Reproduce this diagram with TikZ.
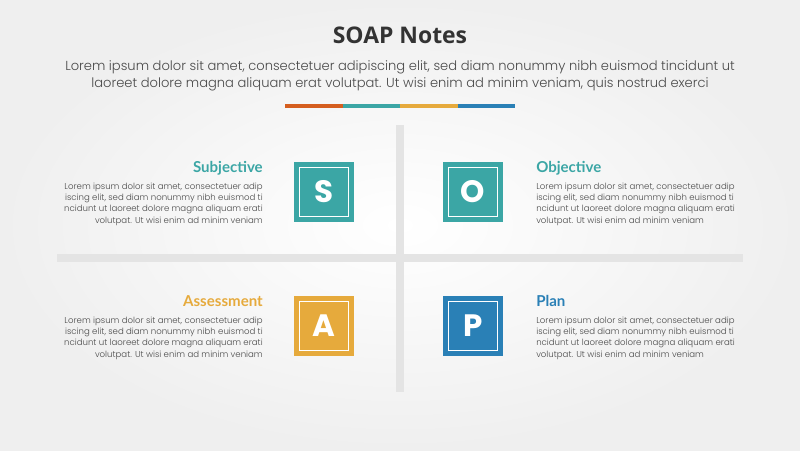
\documentclass[tikz,border=0pt]{standalone}
\usepackage{fontspec}
\setmainfont{Poppins}
\newfontfamily\lightfont{Poppins Light}
\newfontfamily\headfont{Lato}
\newfontfamily\titlefont{Open Sans}
\definecolor{bggray}{HTML}{EFEFEF}
\definecolor{crossgray}{HTML}{E4E4E4}
\definecolor{txtgray}{HTML}{4A4A4A}
\definecolor{soaporange}{HTML}{D55E1F}
\definecolor{soapteal}{HTML}{3BA6A5}
\definecolor{soapyellow}{HTML}{E6AA3C}
\definecolor{soapblue}{HTML}{2A80B6}
\tikzset{
  letterbox/.style={fill=#1,draw=#1,double=white,double distance=0.7pt,line width=3.5pt,
    minimum size=1.225cm,inner sep=0pt,text=white,font=\fontsize{22}{22}\selectfont\bfseries},
  heading/.style={text=#1,font=\headfont\fontsize{10.7}{12}\selectfont\bfseries,inner sep=0pt},
  bodytext/.style={text=txtgray,font=\lightfont\fontsize{6.1}{7.9}\selectfont,inner sep=0pt}
}
\newcommand{\loremblock}{Lorem ipsum dolor sit amet, consectetuer adip\\iscing elit, sed diam nonummy nibh euismod ti\\ncidunt ut laoreet dolore magna aliquam erati\\volutpat. Ut wisi enim ad minim veniam}
\begin{document}
\begin{tikzpicture}[x=0.025cm,y=-0.025cm]
  \shade[inner color=white,outer color=bggray] (0,0) rectangle (800,450); % background
  \fill[crossgray] (396,125) rectangle (404,392); % vertical bar
  \fill[crossgray] (57,254) rectangle (743,262); % horizontal bar
  \foreach \c [count=\i from 0] in {soaporange,soapteal,soapyellow,soapblue}{
    \fill[\c] (285+57.5*\i,104) rectangle (342.5+57.5*\i,107.5);
  }
  \node[font=\titlefont\fontsize{16.3}{17}\selectfont\bfseries,text=black!80,anchor=base] (title) at (400,43) {SOAP Notes};
  % base anchor sits on the last line
  \node[text=txtgray,font=\lightfont\fontsize{9.3}{11.4}\selectfont,align=center,anchor=base,inner sep=0pt] (subtitle) at (400,87)
    {Lorem ipsum dolor sit amet, consectetuer adipiscing elit, sed diam nonummy nibh euismod tincidunt ut\\laoreet dolore magna aliquam erat volutpat. Ut wisi enim ad minim veniam, quis nostrud exerci};
  % letter boxes
  \node[letterbox=soapteal] (boxS) at (324,192) {S};
  \node[letterbox=soapteal] (boxO) at (473,192) {O};
  \node[letterbox=soapyellow] (boxA) at (324,326) {A};
  \node[letterbox=soapblue] (boxP) at (473,326) {P};
  % headings
  \node[heading=soapteal,anchor=base east] (headS) at (263,172) {Subjective};
  \node[heading=soapteal,anchor=base west] (headO) at (536,172) {Objective};
  \node[heading=soapyellow,anchor=base east] (headA) at (263,306) {Assessment};
  \node[heading=soapblue,anchor=base west] (headP) at (536,306) {Plan};
  % body texts
  \node[bodytext,align=right,anchor=base east] (textS) at (263,223) {\loremblock};
  \node[bodytext,align=left,anchor=base west] (textO) at (536,223) {\loremblock};
  \node[bodytext,align=right,anchor=base east] (textA) at (263,357) {\loremblock};
  \node[bodytext,align=left,anchor=base west] (textP) at (536,357) {\loremblock};
\end{tikzpicture}
\end{document}
